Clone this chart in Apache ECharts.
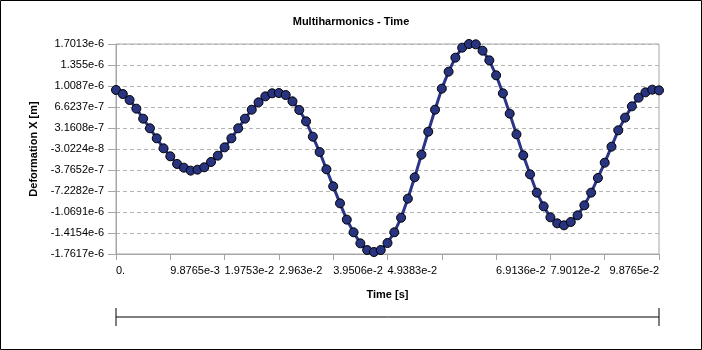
<!DOCTYPE html>
<html>
<head>
<meta charset="utf-8">
<script src="https://cdn.jsdelivr.net/npm/echarts@6/dist/echarts.min.js"></script>
<style>
  html, body { margin: 0; padding: 0; background: #fff; }
  #box { width: 702px; height: 350px; }
</style>
</head>
<body>
<div id="box"></div>
<script>
// sample step of the time signal [s]
const timeStep = 1.2346e-3;
const timeMax = 9.8765e-2;

// Deformation X [m] (x 1e-6)
const deformation = [
  0.943, 0.877, 0.778, 0.635, 0.470, 0.311, 0.146, -0.019, -0.151, -0.277,
  -0.338, -0.387, -0.371, -0.332, -0.244, -0.140, -0.003, 0.146, 0.311, 0.470,
  0.618, 0.739, 0.838, 0.888, 0.893, 0.860, 0.756, 0.613, 0.426, 0.173,
  -0.080, -0.365, -0.646, -0.926, -1.195, -1.404, -1.586, -1.696, -1.729, -1.696,
  -1.580, -1.404, -1.163, -0.849, -0.497, -0.124, 0.255, 0.618, 0.965, 1.245,
  1.476, 1.641, 1.701, 1.696, 1.591, 1.432, 1.185, 0.888, 0.553, 0.212,
  -0.135, -0.448, -0.750, -0.976, -1.157, -1.256, -1.289, -1.234, -1.124, -0.959,
  -0.750, -0.508, -0.256, 0.008, 0.278, 0.487, 0.673, 0.816, 0.904, 0.948,
  0.937
];

const yMin = -1.7617e-6;
const yMax = 1.7013e-6;

// tick labels as printed on the chart
const yTickLabels = ['-1.7617e-6', '-1.4154e-6', '-1.0691e-6', '-7.2282e-7', '-3.7652e-7',
  '-3.0224e-8', '3.1608e-7', '6.6237e-7', '1.0087e-6', '1.355e-6', '1.7013e-6'];
const xTickLabels = ['0.', '9.8765e-3', '1.9753e-2', '2.963e-2', '3.9506e-2', '4.9383e-2',
  '', '6.9136e-2', '7.9012e-2', '', '9.8765e-2'];

const points = deformation.map((v, i) => [i * timeStep, v * 1e-6]);

const font = 'Liberation Sans';
const axisGray = '#a6a6a6';

let myChart = echarts.init(document.getElementById('box'));
myChart.setOption({
  animation: false,
  title: {
    text: 'Multiharmonics - Time',
    left: 'center',
    top: 11,
    textStyle: { fontFamily: font, fontSize: 11, fontWeight: 'bold', color: '#000' }
  },
  grid: {
    left: 116, top: 44, width: 543, height: 210,
    show: true, borderColor: axisGray, borderWidth: 1, backgroundColor: 'transparent'
  },
  xAxis: [
    {
      // visible tick axis, 10 equal steps
      type: 'value', min: 0, max: 10, interval: 1,
      name: 'Time [s]', nameLocation: 'middle', nameGap: 35,
      nameTextStyle: { fontFamily: font, fontSize: 11, fontWeight: 'bold', color: '#000' },
      axisLine: { lineStyle: { color: axisGray } },
      axisTick: { length: 6, lineStyle: { color: axisGray } },
      splitLine: { show: false },
      axisLabel: {
        margin: 11, align: 'left', alignMaxLabel: 'right',
        fontFamily: font, fontSize: 11, color: '#000',
        formatter: (v) => xTickLabels[Math.round(v)]
      }
    },
    { type: 'value', min: 0, max: timeMax, show: false }
  ],
  yAxis: [
    {
      type: 'value', min: 0, max: 10, interval: 1,
      name: 'Deformation X [m]', nameLocation: 'middle', nameGap: 69,
      nameTextStyle: { fontFamily: font, fontSize: 11, fontWeight: 'bold', color: '#000' },
      axisLine: { show: true, lineStyle: { color: axisGray } },
      axisTick: { show: true, length: 8, lineStyle: { color: axisGray } },
      splitLine: { show: true, lineStyle: { color: '#b4b4b4', type: [4, 3] } },
      axisLabel: {
        margin: 12, fontFamily: font, fontSize: 11, color: '#000',
        formatter: (v) => yTickLabels[Math.round(v)]
      }
    },
    { type: 'value', min: yMin, max: yMax, show: false }
  ],
  series: [
    {
      type: 'line',
      xAxisIndex: 1,
      yAxisIndex: 1,
      data: points,
      symbol: 'circle',
      symbolSize: 9,
      showAllSymbol: true,
      lineStyle: { color: '#2b3588', width: 3 },
      itemStyle: { color: '#283480', borderColor: '#000', borderWidth: 1 }
    }
  ],
  graphic: [
    // range bar under the axis
    { type: 'line', shape: { x1: 116, y1: 317, x2: 659, y2: 317 }, style: { stroke: '#000', lineWidth: 1 } },
    { type: 'line', shape: { x1: 116, y1: 308, x2: 116, y2: 326 }, style: { stroke: '#000', lineWidth: 1 } },
    { type: 'line', shape: { x1: 659, y1: 308, x2: 659, y2: 326 }, style: { stroke: '#000', lineWidth: 1 } },
    // outer frame
    { type: 'rect', shape: { x: 0.5, y: 0.5, width: 701, height: 349 }, style: { fill: 'none', stroke: '#000', lineWidth: 1 } }
  ]
});
</script>
</body>
</html>
